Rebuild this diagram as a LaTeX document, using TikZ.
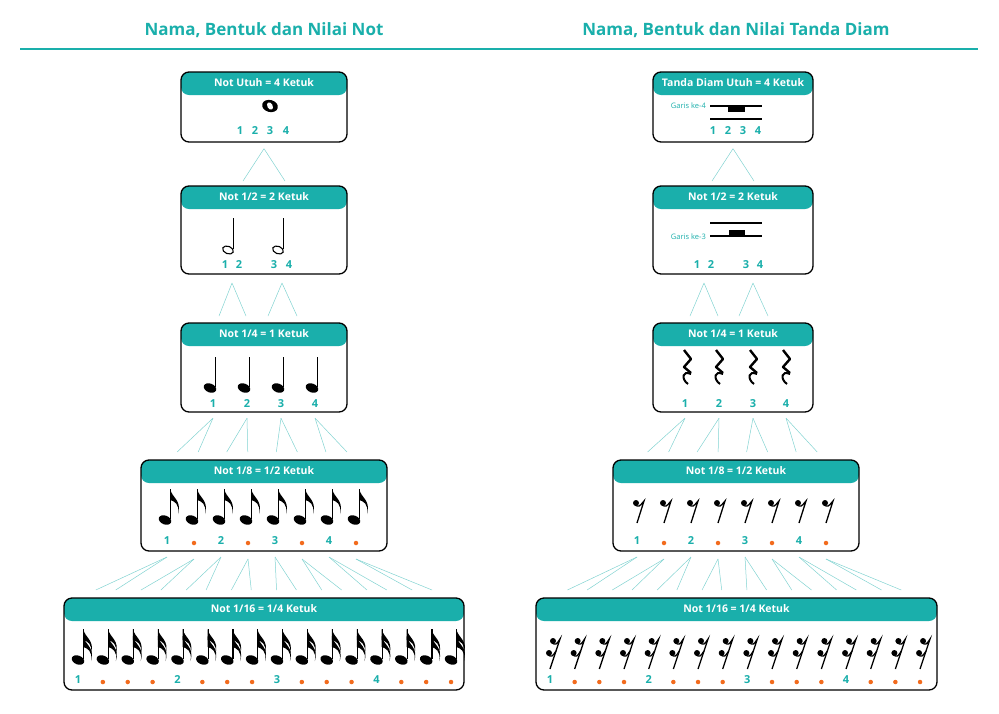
\documentclass[tikz,border=0pt]{standalone}
\usepackage{fontspec}
\setmainfont{Open Sans}
\usetikzlibrary{calc}
\definecolor{hijau}{HTML}{1AAFAB}
\definecolor{oranye}{HTML}{F26B1D}
\tikzset{
  kotak/.style={draw, line width=1.3pt, rounded corners=8pt, fill=white, inner sep=0pt,
    path picture={\fill[hijau] (path picture bounding box.north west) rectangle ([yshift=-23pt]path picture bounding box.north east);}},
  judul/.style={text=white, font=\bfseries\fontsize{10.5}{12}\selectfont},
  ketuk/.style={text=hijau, font=\bfseries\fontsize{11}{12}\selectfont, inner sep=0pt},
  titik/.style={circle, fill=oranye, inner sep=0pt, minimum size=4.5pt},
  kipas/.style={hijau!55, line width=0.5pt},
  garis/.style={text=hijau, font=\fontsize{7.5}{9}\selectfont, inner sep=0pt},
}
% simbol not
\newcommand\kepalaNot[2]{\fill[rotate around={-22:(#1,#2)}] (#1,#2) ellipse (6.5 and 4.4);}
\newcommand\notUtuh[2]{\fill[rotate around={-15:(#1,#2)}] (#1,#2) ellipse (8 and 6);
  \fill[white, rotate around={-60:(#1,#2)}] (#1,#2) ellipse (4 and 2.6);}
\newcommand\notSetengah[2]{\draw[line width=1.1pt, rotate around={-22:(#1,#2)}] (#1,#2) ellipse (5.6 and 3.7);
  \draw[line width=1.1pt] (#1+5.6,#2-1.5) -- (#1+5.6,#2-32);}
\newcommand\notSeperempat[2]{\kepalaNot{#1}{#2}\draw[line width=1.2pt] (#1+5.8,#2-1) -- (#1+5.8,#2-31);}
\newcommand\bendera[3]{\fill (#1+5.2,#2-#3) .. controls (#1+7,#2-#3+9) and (#1+17,#2-#3+11) .. (#1+13,#2-#3+25)
  .. controls (#1+15,#2-#3+15) and (#1+9,#2-#3+12) .. (#1+5.2,#2-#3+11) -- cycle;}
\newcommand\notSeperdelapan[2]{\notSeperempat{#1}{#2}\bendera{#1}{#2}{31}}
\newcommand\notSeperenambelas[2]{\notSeperempat{#1}{#2}\bendera{#1}{#2}{31}\bendera{#1}{#2}{24}}
% simbol tanda diam
\newcommand\diamSeperempat[2]{\draw[line width=2.4pt, line join=round] (#1-3,#2-17) -- (#1+4,#2-8) -- (#1-3,#2) -- (#1+4,#2+6);
  \draw[line width=2pt] (#1+4,#2+7) .. controls (#1-5,#2+3) and (#1-6,#2+12) .. (#1+1,#2+17);}
\newcommand\diamSeperdelapan[2]{\fill (#1-3,#2-8) circle (3);
  \draw[line width=1.3pt] (#1-4,#2-6) .. controls (#1,#2-4) .. (#1+5,#2-10) -- (#1-2,#2+12);}
\newcommand\diamSeperenambelas[2]{\fill (#1,#2-11) circle (3); \fill (#1-4,#2+1) circle (3);
  \draw[line width=1.3pt] (#1-1,#2-9) .. controls (#1+3,#2-7) .. (#1+7,#2-13) -- (#1-3,#2+17);
  \draw[line width=1.3pt] (#1-5,#2+3) .. controls (#1-1,#2+5) .. (#1+3,#2-1);}

\begin{document}
\begin{tikzpicture}[x=1pt, y=-1pt]
\useasboundingbox (0,0) rectangle (999,713);
% judul
\node[text=hijau, font=\bfseries\fontsize{17}{20}\selectfont] (jdl1) at (264,30) {Nama, Bentuk dan Nilai Not};
\node[text=hijau, font=\bfseries\fontsize{17}{20}\selectfont] (jdl2) at (736,30) {Nama, Bentuk dan Nilai Tanda Diam};
\draw[hijau, line width=1.5pt] (20,49) -- (978,49);

% kotak kiri
\node[kotak, minimum width=166pt, minimum height=70pt] (n1) at (264,107) {};
\node[kotak, minimum width=166pt, minimum height=88pt] (n2) at (264,230) {};
\node[kotak, minimum width=166pt, minimum height=89pt] (n3) at (264,367.5) {};
\node[kotak, minimum width=246pt, minimum height=91pt] (n4) at (264,505.5) {};
\node[kotak, minimum width=400pt, minimum height=92pt] (n5) at (264,644) {};
% kotak kanan
\node[kotak, minimum width=160pt, minimum height=70pt] (d1) at (733,107) {};
\node[kotak, minimum width=160pt, minimum height=88pt] (d2) at (733,230) {};
\node[kotak, minimum width=160pt, minimum height=89pt] (d3) at (733,367.5) {};
\node[kotak, minimum width=246pt, minimum height=91pt] (d4) at (736,505.5) {};
\node[kotak, minimum width=401pt, minimum height=92pt] (d5) at (736.5,644) {};

\node[judul] at ([yshift=-11.5pt]n1.north) {Not Utuh = 4 Ketuk};
\node[judul] at ([yshift=-11.5pt]n2.north) {Not 1/2 = 2 Ketuk};
\node[judul] at ([yshift=-11.5pt]n3.north) {Not 1/4 = 1 Ketuk};
\node[judul] at ([yshift=-11.5pt]n4.north) {Not 1/8 = 1/2 Ketuk};
\node[judul] at ([yshift=-11.5pt]n5.north) {Not 1/16 = 1/4 Ketuk};
\node[judul] at ([yshift=-11.5pt]d1.north) {Tanda Diam Utuh = 4 Ketuk};
\node[judul] at ([yshift=-11.5pt]d2.north) {Not 1/2 = 2 Ketuk};
\node[judul] at ([yshift=-11.5pt]d3.north) {Not 1/4 = 1 Ketuk};
\node[judul] at ([yshift=-11.5pt]d4.north) {Not 1/8 = 1/2 Ketuk};
\node[judul] at ([yshift=-11.5pt]d5.north) {Not 1/16 = 1/4 Ketuk};

% ketukan
\foreach \t/\x in {1/240,2/255,3/270,4/286} \node[ketuk] (k1-\t) at (\x,131) {\t};
\foreach \t/\x in {1/713,2/728,3/743,4/758} \node[ketuk] (e1-\t) at (\x,131) {\t};
\foreach \t/\x in {1/225,2/239,3/274,4/289} \node[ketuk] (k2-\t) at (\x,265) {\t};
\foreach \t/\x in {1/697,2/711,3/746,4/760} \node[ketuk] (e2-\t) at (\x,265) {\t};
\foreach \t/\x in {1/213,2/247,3/281,4/315} \node[ketuk] (k3-\t) at (\x,404) {\t};
\foreach \t/\x in {1/685,2/719,3/753,4/786} \node[ketuk] (e3-\t) at (\x,404) {\t};
\foreach \i in {0,...,7} {
  \pgfmathtruncatemacro\n{\i/2+1}
  \ifodd\i
    \node[titik] (k4-\i) at ({167+27*\i},543) {};
    \node[titik] (e4-\i) at ({637+27*\i},543) {};
  \else
    \node[ketuk] (k4-\i) at ({167+27*\i},541) {\n};
    \node[ketuk] (e4-\i) at ({637+27*\i},541) {\n};
  \fi
}
\foreach \i in {0,...,15} {
  \pgfmathtruncatemacro\n{\i/4+1}
  \pgfmathtruncatemacro\m{mod(\i,4)}
  \ifnum\m=0
    \node[ketuk] (k5-\i) at ({78+24.87*\i},680) {\n};
    \node[ketuk] (e5-\i) at ({550+24.67*\i},680) {\n};
  \else
    \node[titik] (k5-\i) at ({78+24.87*\i},682) {};
    \node[titik] (e5-\i) at ({550+24.67*\i},682) {};
  \fi
}

% simbol
\notUtuh{270}{106}
\notSetengah{228}{250}
\notSetengah{278}{250}
\foreach \x in {213,247,281,315} {\notSeperempat{\x-3}{388}}
\foreach \i in {0,...,7} {\notSeperdelapan{165+27*\i}{520}}
\foreach \i in {0,...,15} {\notSeperenambelas{78+24.87*\i}{660}}
\draw[line width=1.2pt] (710,106) -- (762,106) (710,119) -- (762,119);
\fill (728,106) rectangle (745,112);
\node[garis, anchor=east] (g4) at (706,106) {Garis ke-4};
\draw[line width=1.2pt] (710,223) -- (762,223) (710,236) -- (762,236);
\fill (729,230) rectangle (745,236);
\node[garis, anchor=east] (g3) at (706,237) {Garis ke-3};
\foreach \x in {687,719,753,786} {\diamSeperempat{\x}{367}}
\foreach \i in {0,...,7} {\diamSeperdelapan{639+27*\i}{511}}
\foreach \i in {0,...,15} {\diamSeperenambelas{553+24.67*\i}{652}}

% kipas
\coordinate (h1) at (232,283); \coordinate (h2) at (282,283);
\coordinate (i1) at (704,283); \coordinate (i2) at (753,283);
\draw[kipas] ([yshift=-6pt]n1.south) -- (243,181) ([yshift=-6pt]n1.south) -- (285,181);
\draw[kipas] ([yshift=-6pt]d1.south) -- (712,181) ([yshift=-6pt]d1.south) -- (754,181);
\draw[kipas] (h1) -- (219,316) (h1) -- (246,316) (h2) -- (268,316) (h2) -- (297,316);
\draw[kipas] (i1) -- (690,316) (i1) -- (718,316) (i2) -- (739,316) (i2) -- (768,316);
\foreach \p in {1,...,4} {\foreach \j in {0,1} {
  \pgfmathsetmacro\c{167+27*(2*(\p-1)+\j)}
  \draw[kipas] ([yshift=-10pt]k3-\p.south) -- ({213+34*(\p-1)+0.78*(\c-213-34*(\p-1))},452);
  \pgfmathsetmacro\c{637+27*(2*(\p-1)+\j)}
  \draw[kipas] ([yshift=-10pt]e3-\p.south) -- ({685+33.7*(\p-1)+0.78*(\c-685-33.7*(\p-1))},452);
}}
\foreach \p in {0,...,7} {\foreach \j in {0,1} {
  \pgfmathsetmacro\c{78+24.87*(2*\p+\j)}
  \draw[kipas] ($(k4-\p)+(0,16)$) -- ({167+27*\p+0.8*(\c-167-27*\p)},590);
  \pgfmathsetmacro\c{550+24.67*(2*\p+\j)}
  \draw[kipas] ($(e4-\p)+(0,16)$) -- ({637+27*\p+0.8*(\c-637-27*\p)},590);
}}
\end{tikzpicture}
\end{document}
